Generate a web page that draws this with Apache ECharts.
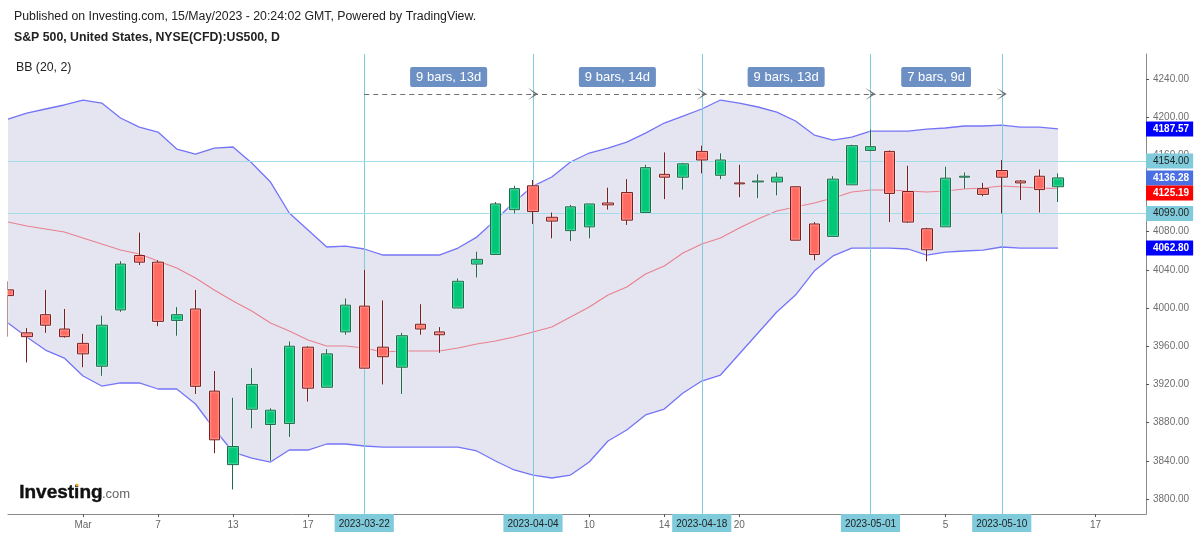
<!DOCTYPE html>
<html>
<head>
<meta charset="utf-8">
<style>html,body{margin:0;padding:0;background:#fff}#c{width:1200px;height:536px}</style>
<script src="https://cdn.jsdelivr.net/npm/echarts@6/dist/echarts.min.js"></script>
</head>
<body>
<div id="c"></div>
<script>
// trading days, one per bar
const dates = ['02-23','02-24','02-27','02-28','03-01','03-02','03-03','03-06','03-07','03-08','03-09','03-10','03-13','03-14','03-15','03-16','03-17','03-20','03-21','2023-03-22','03-23','03-24','03-27','03-28','03-29','03-30','03-31','04-03','2023-04-04','04-05','04-06','04-10','04-11','04-12','04-13','04-14','04-17','2023-04-18','04-19','04-20','04-21','04-24','04-25','04-26','04-27','04-28','2023-05-01','05-02','05-03','05-04','05-05','05-08','05-09','2023-05-10','05-11','05-12','05-15'];
// open, close, low, high
const ohlc = [
[4019,4013,3970,4028],[3974,3970,3943,3979],[3993,3982,3974,4019],[3978,3970,3969,3999],[3963,3952,3938,3973],
[3939,3982,3929,3992],[3998,4046,3996,4049],[4055,4048,4045,4079],[4048,3986,3981,4050],[3987,3993,3971,4001],
[3999,3918,3910,4019],[3913,3862,3848,3934],[3836,3855,3810,3906],[3894,3920,3874,3937],[3878,3893,3840,3895],
[3879,3960,3865,3965],[3959,3916,3902,3960],[3917,3952,3917,3957],[3975,4003,3972,4010],[4002,3937,3937,4040],
[3959,3949,3920,4008],[3938,3971,3910,3974],[3983,3978,3972,4004],[3975,3972,3953,3980],[4000,4028,4000,4031],
[4046,4051,4032,4059],[4056,4109,4056,4111],[4103,4125,4099,4128],[4128,4101,4088,4134],[4095,4091,4073,4100],
[4081,4106,4070,4108],[4085,4109,4073,4109],[4110,4108,4103,4126],[4121,4092,4087,4135],[4100,4147,4100,4150],
[4140,4137,4114,4163],[4137,4151,4124,4152],[4164,4155,4141,4170],[4139,4155,4135,4162],[4131,4130,4116,4150],
[4132,4133,4115,4140],[4132,4137,4118,4142],[4127,4071,4071,4127],[4088,4056,4050,4090],[4075,4135,4075,4138],
[4129,4170,4129,4171],[4165,4169,4164,4187],[4164,4120,4090,4165],[4122,4090,4089,4149],[4083,4061,4049,4084],
[4085,4136,4085,4148],[4137,4138,4125,4142],[4125,4119,4117,4131],[4144,4137,4099,4155],[4133,4131,4113,4134],
[4138,4124,4100,4145],[4127,4136.28,4111,4141]];
const bbUpper = [4197.9,4204.2,4208.4,4212.6,4217.8,4214.6,4199,4189.5,4184.3,4166.5,4161.2,4167.5,4168.6,4151.8,4131.9,4099.5,4081.7,4063.9,4064.9,4061.8,4055.5,4055.5,4055.5,4055.5,4062.8,4074.3,4092.1,4111,4127.7,4137.2,4152.9,4162.3,4167.5,4173.8,4183.2,4193.7,4201,4208.4,4217.8,4214.6,4210.5,4205.2,4195.8,4181.1,4175.9,4179,4185.3,4185.3,4185.3,4187.4,4188.5,4190.6,4190.6,4191.6,4189.5,4189.5,4187.57];
const bbMiddle = [4090,4085.9,4082.7,4079.6,4073.3,4067,4060.7,4056.5,4049.2,4041.9,4031.4,4018.8,4007.3,3996.9,3984.3,3975.9,3966.5,3960.2,3960.2,3958.1,3953.9,3955,3955,3955,3958.1,3962.3,3965.4,3969.6,3974.9,3980.1,3990.6,4001,4013.6,4022,4035.6,4044,4057.6,4067,4073.3,4083.8,4093.2,4101.6,4105.8,4110,4115.2,4121.5,4123.6,4123.6,4122.5,4121.5,4122.5,4124.6,4125.6,4127.7,4126.7,4125.6,4125.19];
const bbLower = [3984.3,3969.6,3956,3947.6,3928.8,3918.3,3921.5,3921.5,3915.2,3915.2,3899.5,3873.3,3849.2,3842.9,3838.7,3851.3,3851.3,3857.6,3857.6,3855.5,3854.4,3854.4,3854.4,3854.4,3854.4,3850.3,3839.8,3830.4,3825.1,3822,3825.1,3838.7,3860.7,3872.2,3888,3894.2,3911,3923.5,3929.8,3951.8,3973.8,3995.8,4013.6,4038.7,4054.5,4062.8,4062.8,4062.8,4061.8,4055.5,4058.6,4059.7,4060.7,4063.9,4062.8,4062.8,4062.8];
const yTicks = [3800,3840,3880,3920,3960,4000,4040,4080,4120,4160,4200,4240];
const xTickBars = [4,8,12,16,31,35,39,50,58];
const xTickText = ['Mar','7','13','17','10','14','20','5','17'];
const markerBars = [19,28,37,46,53];
const spanLabels = ['9 bars, 13d','9 bars, 14d','9 bars, 13d','7 bars, 9d'];
const levels = [4154,4099];
const arrowLevel = 4224;

const font = 'Arial, "Liberation Sans", sans-serif';
const teal = '#7fcbdc';
const k = v => v.map((y,i)=>[i,y]);
const badge = (value, bg, color, dy) => ({
  yAxis:value,
  lineStyle:{color:'rgba(0,0,0,0)',width:0},
  label:{show:true,position:'end',distance:0,formatter:value.toFixed(2),backgroundColor:bg,color:color,
    fontFamily:font,fontSize:10,fontWeight:'bold',padding:[3,4,2,7],lineHeight:10,offset:[0,dy||0]}
});

const chart = echarts.init(document.getElementById('c'),null,{renderer:'canvas'});
chart.setOption({
  animation:false,
  backgroundColor:'#fff',
  textStyle:{fontFamily:font},
  grid:{left:8,right:54,top:54,bottom:22},
  xAxis:{type:'value',min:0,max:60.693,splitLine:{show:false},
    axisLine:{show:true,onZero:false,lineStyle:{color:'#8a8a8a',width:1}},
    axisTick:{show:true,length:3,lineStyle:{color:'#555'},customValues:xTickBars.concat(markerBars)},
    axisLabel:{color:'#666',fontSize:10,fontFamily:font,margin:6,customValues:xTickBars,showMinLabel:true,showMaxLabel:true,
      formatter:v=>xTickText[xTickBars.indexOf(v)]}
  },
  yAxis:{type:'value',position:'right',min:3784.3,max:4266,splitLine:{show:false},
    axisLine:{show:true,onZero:false,lineStyle:{color:'#8a8a8a',width:1}},
    axisTick:{show:true,length:3,lineStyle:{color:'#555'},customValues:yTicks},
    axisLabel:{color:'#6f6f6f',fontSize:10,fontFamily:font,margin:7,customValues:yTicks,formatter:v=>v.toFixed(2)}
  },
  series:[
    {type:'custom',name:'band',silent:true,z:1,clip:true,
      data:bbLower.map((l,i)=>[i,l,bbUpper[i]]),encode:{x:0,y:[1,2]},
      renderItem:(params,api)=>{
        if(params.dataIndex!==0) return {type:'group',children:[]};
        const top = bbUpper.map((u,i)=>api.coord([i,u]));
        const bottom = bbLower.map((l,i)=>api.coord([i,l])).reverse();
        return {type:'polygon',shape:{points:top.concat(bottom)},style:{fill:'#e5e5f1'},silent:true};
      }},
    {type:'line',name:'Upper',data:k(bbUpper),showSymbol:false,lineStyle:{color:'#7474f8',width:1.3},z:3,
      markLine:{silent:true,symbol:'none',z:4,animation:false,
        lineStyle:{color:teal,width:1,type:'solid'},
        data:markerBars.map(b=>({xAxis:b,name:dates[b],
          label:{show:true,position:'start',distance:0,formatter:'{b}',backgroundColor:teal,color:'#222',fontFamily:font,fontSize:10,padding:[5,4,2,4],lineHeight:11}}))
      }},
    {type:'line',name:'Basis',data:k(bbMiddle),showSymbol:false,lineStyle:{color:'#e8808e',width:1.1},z:3,
      markLine:{silent:true,symbol:'none',z:4,animation:false,
        data:levels.map(v=>({yAxis:v,lineStyle:{color:'#a3dbe8',width:1.2,type:'solid'},label:{show:true,position:'end',distance:0,formatter:v.toFixed(2),backgroundColor:teal,color:'#222',fontFamily:font,fontSize:10,padding:[3,4,2,7],lineHeight:10}}))
      }},
    {type:'line',name:'Lower',data:k(bbLower),showSymbol:false,lineStyle:{color:'#7474f8',width:1.3},z:3,
      markLine:{silent:true,symbol:'none',z:12,animation:false,
        data:[
          badge(bbUpper[bbUpper.length-1],'#0000ff','#fff'),
          badge(ohlc[ohlc.length-1][1],'#4a6fe3','#fff'),
          badge(bbMiddle[bbMiddle.length-1],'#ff0000','#fff',4.5),
          badge(bbLower[bbLower.length-1],'#0000ff','#fff')
        ]}},
    {type:'line',name:'spans',data:[],z:5,
      markLine:{silent:true,z:6,animation:false,symbol:['none','path://M0,10L5,0L10,10L5,3Z'],symbolSize:[12,10],
        lineStyle:{color:'#6e6e6e',width:1.1,type:[5,4]},
        data:spanLabels.map((t,i)=>[
          {coord:[markerBars[i],arrowLevel],label:{show:true,position:'middle',formatter:t,backgroundColor:'#6c90c4',color:'#fff',fontFamily:font,fontSize:13,padding:[3,6,3,6],lineHeight:14,borderRadius:2,offset:[0,-2]}},
          {coord:[markerBars[i+1],arrowLevel]}
        ])
      }},
    {type:'candlestick',name:'S&P 500',data:ohlc.map((d,i)=>[i].concat(d)),barWidth:11,z:10,
      itemStyle:{color:'#00c878',color0:'#ff6b61',borderColor:'#1f6b4c',borderColor0:'#7a1f1f',borderWidth:1,shadowColor:'#ffffff',shadowBlur:2}}
  ],
  graphic:[
    {type:'rect',z:50,shape:{x:0,y:54,width:7.5,height:460},style:{fill:'#fff'}},
    {type:'text',left:14,top:11,z:60,style:{text:'Published on Investing.com, 15/May/2023 - 20:24:02 GMT, Powered by TradingView.',fill:'#222',font:'12.3px '+font}},
    {type:'text',left:14,top:32,z:60,style:{text:'S&P 500, United States, NYSE(CFD):US500, D',fill:'#222',font:'bold 12.3px '+font}},
    {type:'text',left:16,top:62,z:60,style:{text:'BB (20, 2)',fill:'#222',font:'12.3px '+font}},
    {type:'text',left:19,top:483,z:60,style:{text:'Investing',fill:'#111',stroke:'#111',lineWidth:0.4,font:'bold 19px '+font}},
    {type:'text',left:102,top:488,z:60,style:{text:'.com',fill:'#666',font:'13px '+font}},
    {type:'circle',z:60,shape:{cx:77,cy:485,r:1.5},style:{fill:'#f5a623'}}
  ]
});
</script>
</body>
</html>
